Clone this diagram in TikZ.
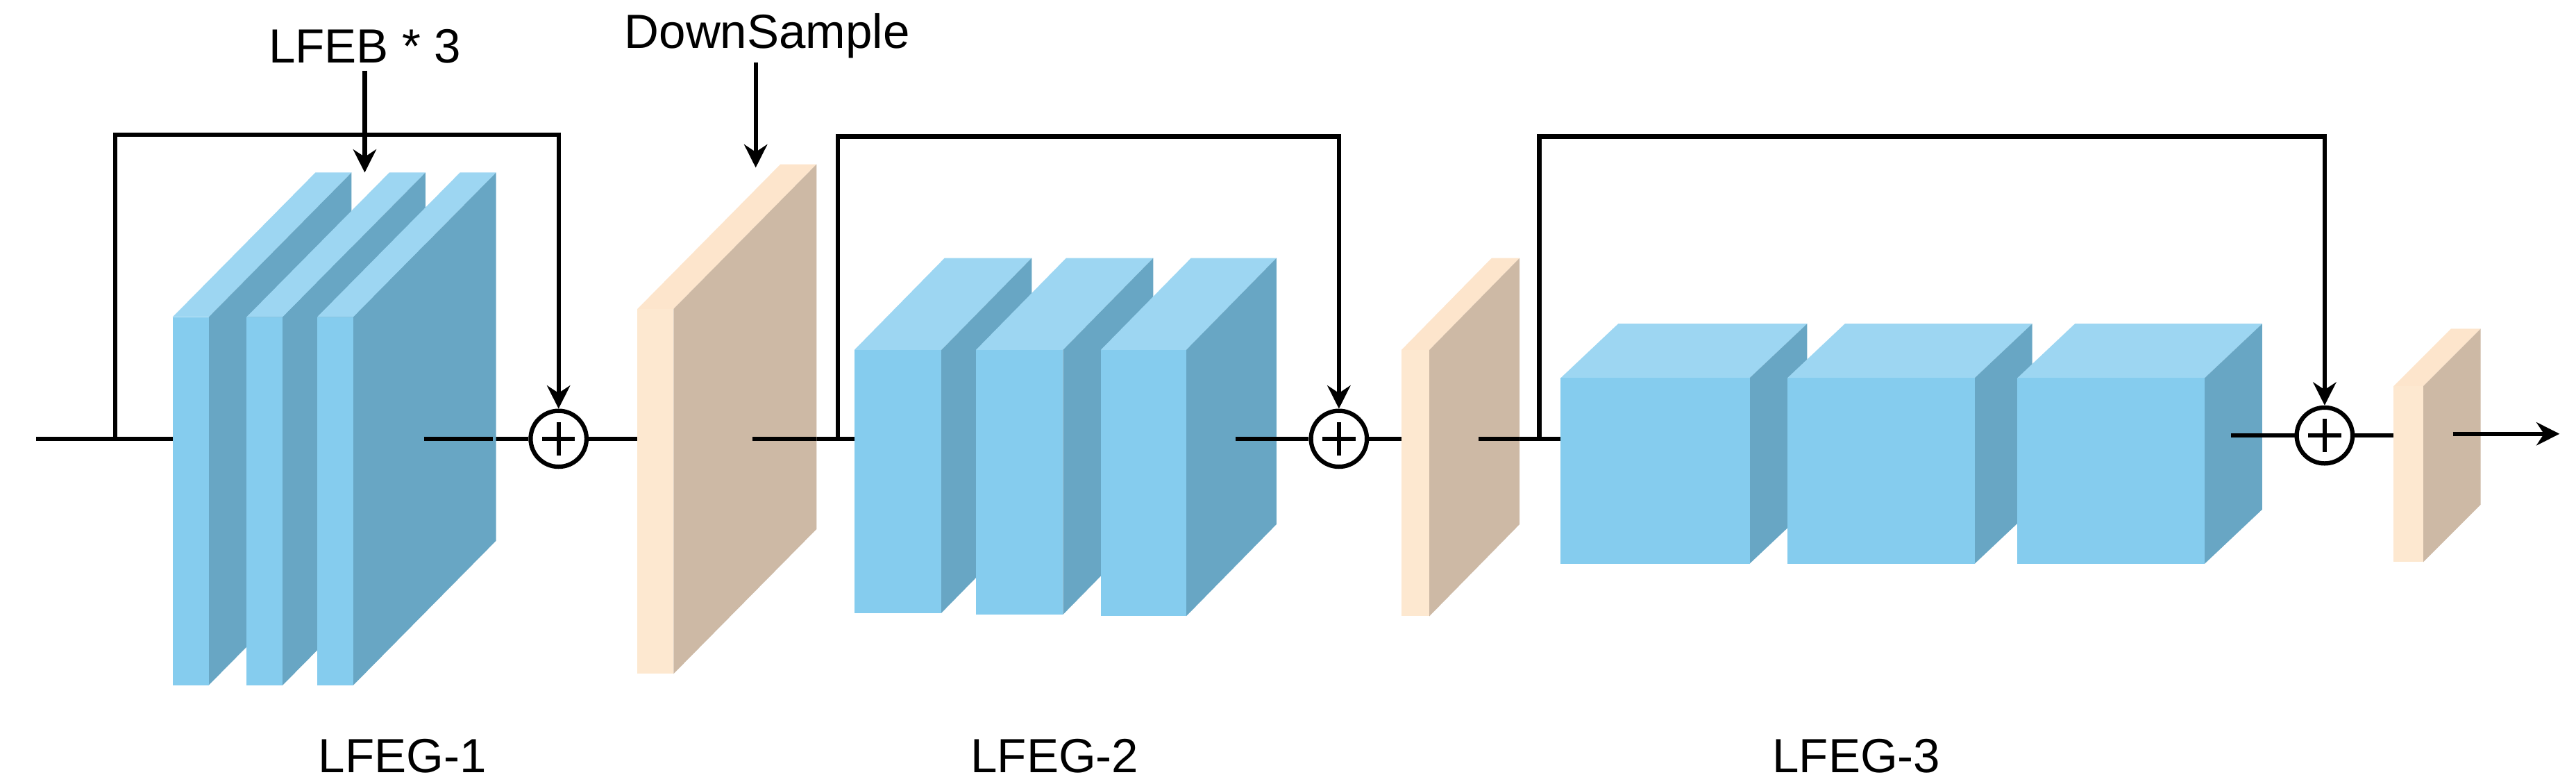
\documentclass[tikz,border=0pt]{standalone}
\usetikzlibrary{arrows.meta}
\usepackage{fontspec}
\setmainfont{Liberation Sans}
\definecolor{bfront}{HTML}{85CCEE}
\definecolor{bside}{HTML}{68A6C4}
\definecolor{btop}{HTML}{9DD6F2}
\definecolor{pfront}{HTML}{FDE8D0}
\definecolor{pside}{HTML}{CDB9A5}
\definecolor{ptop}{HTML}{FDE5CC}
\newcommand\cuboid[9]{%
 \fill[#9] (#1,#3) -- (#2,#3) -- ({#2+#5},{#3-#6}) -- ({#1+#5},{#3-#6}) -- cycle;
 \fill[#8] (#2,#3) -- ({#2+#5},{#3-#6}) -- ({#2+#5},{#4-#6}) -- (#2,#4) -- cycle;
 \fill[#7] (#1,#3) rectangle (#2,#4);}
\begin{document}
\begin{tikzpicture}[x=0.01cm,y=-0.01cm,
  ln/.style={line width=0.75pt},
  arr/.style={ln,-{Stealth[length=4pt,width=4pt]}},
  plus/.style={circle,draw,line width=0.75pt,minimum size=0.34cm,inner sep=0pt,fill=white},
  lbl/.style={font=\fontsize{8.3pt}{9pt}\selectfont,inner sep=0pt}]
\useasboundingbox (0,0) rectangle (1568,477);
\coordinate (s1) at (22,267); \coordinate (k1) at (70,267);
\coordinate (s2) at (458,267); \coordinate (k2) at (510,267);
\coordinate (s3) at (900,267); \coordinate (k3) at (937,267);
\coordinate (e1) at (258,267); \coordinate (d1) at (388,267);
\coordinate (e2) at (752,267); \coordinate (d2) at (853,267);
\coordinate (e3) at (1358,265); \coordinate (d3) at (1457,265);
\coordinate (o1) at (1493,264); \coordinate (o2) at (1558,264);
\node[plus] (p1) at (340,267) {};
\node[plus] (p2) at (815,267) {};
\node[plus] (p3) at (1415,265) {};
\foreach \p in {p1,p2,p3}{\draw[ln] ([xshift=-0.1cm]\p.center) -- ([xshift=0.1cm]\p.center) ([yshift=-0.1cm]\p.center) -- ([yshift=0.1cm]\p.center);}
\draw[ln] (s1) -- (105,267);
\draw[arr] (k1) -- (70,82) -| (p1.north);
\draw[ln] (e1) -- (p1.west); \draw[ln] (p1.east) -- (d1);
\draw[ln] (s2) -- (520,267);
\draw[arr] (k2) -- (510,83) -| (p2.north);
\draw[ln] (e2) -- (p2.west); \draw[ln] (p2.east) -- (d2);
\draw[ln] (s3) -- (950,267);
\draw[arr] (k3) -- (937,83) -| (p3.north);
\draw[ln] (e3) -- (p3.west); \draw[ln] (p3.east) -- (d3);
% LFEG-1
\cuboid{105}{127}{193}{417}{87}{88}{bfront}{bside}{btop}
\cuboid{150}{172}{193}{417}{87}{88}{bfront}{bside}{btop}
\cuboid{193}{215}{193}{417}{87}{88}{bfront}{bside}{btop}
\draw[ln] (e1) -- (300,267);
% DS1
\cuboid{388}{410}{188}{410}{87}{88}{pfront}{pside}{ptop}
\draw[ln] (s2) -- (497,267);
% LFEG-2
\cuboid{520}{573}{213}{373}{55}{56}{bfront}{bside}{btop}
\cuboid{594}{647}{213}{374}{55}{56}{bfront}{bside}{btop}
\cuboid{670}{722}{213}{375}{55}{56}{bfront}{bside}{btop}
\draw[ln] (e2) -- (777,267);
% DS2
\cuboid{853}{870}{213}{375}{55}{56}{pfront}{pside}{ptop}
\draw[ln] (s3) -- (925,267);
% LFEG-3
\cuboid{950}{1065}{230}{343}{35}{33}{bfront}{bside}{btop}
\cuboid{1088}{1202}{230}{343}{35}{33}{bfront}{bside}{btop}
\cuboid{1228}{1342}{230}{343}{35}{33}{bfront}{bside}{btop}
\draw[ln] (e3) -- (1377,265);
% DS3
\cuboid{1457}{1475}{235}{342}{35}{35}{pfront}{pside}{ptop}
\draw[arr] (o1) -- (o2);
% labels
\node[lbl] (t1) at (222,28) {LFEB * 3};
\coordinate (a1) at (222,105);
\draw[arr] (222,43) -- (a1);
\node[lbl] (t2) at (467,22) {DownSample};
\coordinate (a2) at (460,102);
\draw[arr] (460,38) -- (a2);
\node[lbl] (l1) at (245,460) {LFEG-1};
\node[lbl] (l2) at (642,460) {LFEG-2};
\node[lbl] (l3) at (1130,460) {LFEG-3};
\end{tikzpicture}
\end{document}
